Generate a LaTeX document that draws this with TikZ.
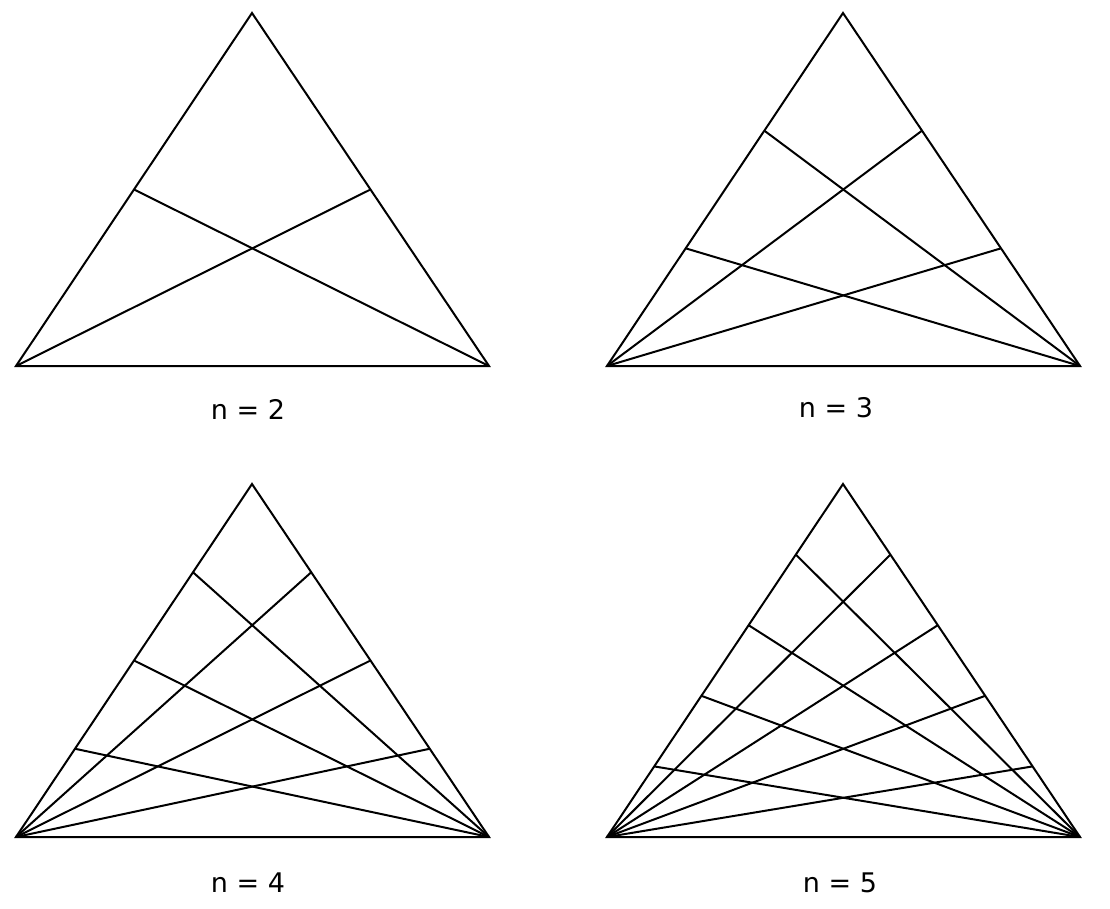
\documentclass[tikz,border=0pt]{standalone}
\usepackage{fontspec}
\setmainfont{DejaVu Sans}
\usetikzlibrary{calc}
\begin{document}
\begin{tikzpicture}[x=1pt,y=-1pt,line width=2pt,line join=miter,
  edge/.style={draw=black},
  lab/.style={font=\fontsize{27}{32}\selectfont,inner sep=0pt}]
\useasboundingbox (0,0) rectangle (1110,909);
\foreach \ox/\oy/\n/\lx/\ly in {0/0/2/248/409, 591/0/3/836/408, 0/471/4/248/883, 591/471/5/840/883}{
  \begin{scope}[shift={(\ox,\oy)}]
    \coordinate (A\n) at (16,366);
    \coordinate (B\n) at (489,366);
    \coordinate (C\n) at (252,13);
    \draw[edge] (A\n) -- (B\n) -- (C\n) -- cycle;
    \pgfmathtruncatemacro{\m}{\n-1}
    \foreach \k in {1,...,\m}{
      \coordinate (R\n-\k) at ($(C\n)!{\k/\n}!(B\n)$);
      \coordinate (L\n-\k) at ($(C\n)!{\k/\n}!(A\n)$);
      \draw[edge] (A\n) -- (R\n-\k);
      \draw[edge] (B\n) -- (L\n-\k);
    }
  \end{scope}
  \node[lab] (T\n) at (\lx,\ly) {n = \n};
}
\end{tikzpicture}
\end{document}
